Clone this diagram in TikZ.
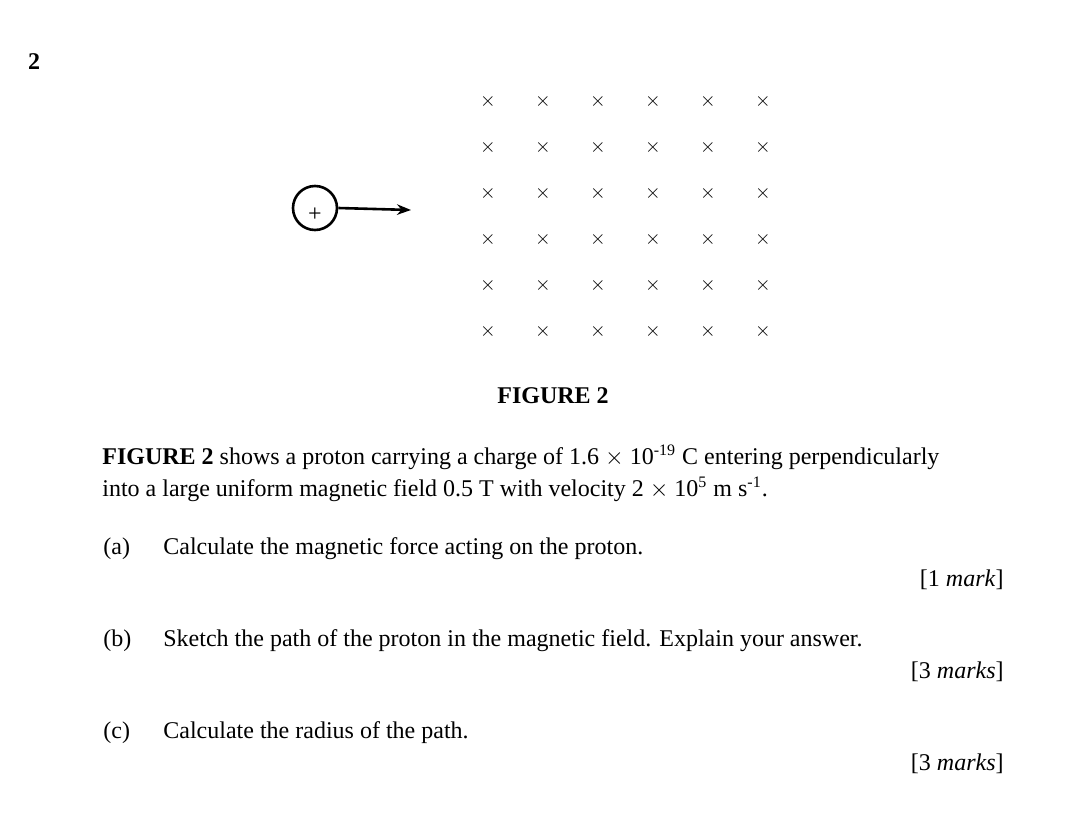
\documentclass[tikz,border=0pt]{standalone}
\usepackage{fontspec}
\setmainfont{Liberation Serif}
\usetikzlibrary{arrows.meta}
\begin{document}
\begin{tikzpicture}[x=0.5pt,y=-0.5pt,font=\fontsize{12}{14}\selectfont,
    txt/.style={anchor=west,inner sep=0pt},
    marks/.style={anchor=east,inner sep=0pt}]
    \useasboundingbox (0,0) rectangle (1080,819);
    \node[inner sep=0pt] (qno) at (34,62) {\textbf{2}};

    % field into the page
    \foreach \i/\x in {1/488,2/543,3/598,4/653,5/708,6/763}
        \foreach \j/\y in {1/101,2/147,3/193,4/239,5/285,6/331}
            \node[inner sep=0pt,font=\fontsize{10}{10}\selectfont] (f\i\j) at (\x,\y) {$\times$};

    % proton
    \node[circle,draw,line width=1.3pt,minimum size=22pt,inner sep=0pt] (p) at (315,208) {};
    \node[inner sep=0pt] (plus) at (315,215) {+};
    \coordinate (tip) at (411,210);
    \draw[line width=1.3pt,-{Stealth[length=7pt]}] (p.east) -- (tip);

    \node[inner sep=0pt] (cap) at (553,396) {\textbf{FIGURE 2}};

    \node[txt] (l1) at (102,457) {\textbf{FIGURE 2} shows a proton carrying a charge of 1.6 $\times$ 10\textsuperscript{-19} C entering perpendicularly};
    \node[txt] (l2) at (102,489) {into a large uniform magnetic field 0.5 T with velocity 2 $\times$ 10\textsuperscript{5} m s\textsuperscript{-1}.};

    \node[txt] (a) at (103,549) {(a)};
    \node[txt] (ta) at (163,549) {Calculate the magnetic force acting on the proton.};
    \node[marks] (ma) at (1004,580) {[1 \textit{mark}]};

    \node[txt] (b) at (103,641) {(b)};
    \node[txt] (tb) at (163,641) {Sketch the path of the proton in the magnetic field. Explain your answer.};
    \node[marks] (mb) at (1004,672) {[3 \textit{marks}]};

    \node[txt] (c) at (103,733) {(c)};
    \node[txt] (tc) at (163,733) {Calculate the radius of the path.};
    \node[marks] (mc) at (1004,764) {[3 \textit{marks}]};
\end{tikzpicture}
\end{document}
